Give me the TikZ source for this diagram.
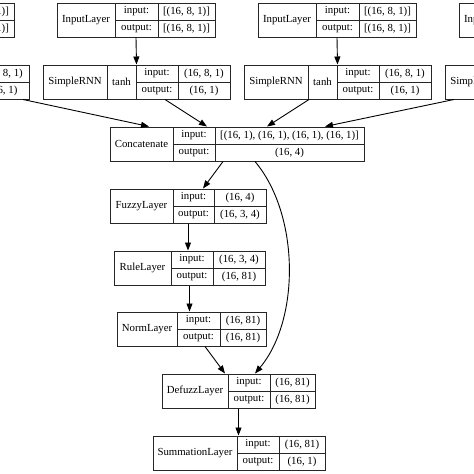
\documentclass[tikz,border=0pt]{standalone}
\usepackage{fontspec}
\setmainfont{Liberation Serif}
\usetikzlibrary{arrows.meta,fit,calc}
\tikzset{
  boxline/.style={draw=black!85, line width=1pt, inner sep=0pt},
  cell/.style={inner sep=0pt, font=\fontsize{10.8}{12}\selectfont, text=black},
  arr/.style={draw=black, line width=0.9pt, -{Triangle[length=8pt,width=6pt]}},
}
% name, x0, x1, x2, x3, ytop, label, input value, output value
\newcommand{\lay}[9]{%
  \pgfmathsetmacro{\yb}{#6+34}\pgfmathsetmacro{\ym}{#6+17}%
  \pgfmathsetmacro{\yi}{#6+8.5}\pgfmathsetmacro{\yo}{#6+25.5}%
  \node[boxline, fit={(#2,#6) (#5,\yb)}] (#1) {};
  \draw[boxline] (#3,#6) -- (#3,\yb);
  \draw[boxline] (#4,#6) -- (#4,\yb);
  \draw[boxline] (#3,\ym) -- (#5,\ym);
  \node[cell] (#1-l) at ({(#2+#3)/2},\ym) {#7};
  \node[cell] (#1-ik) at ({(#3+#4)/2},\yi) {input:};
  \node[cell] (#1-ok) at ({(#3+#4)/2},\yo) {output:};
  \node[cell] (#1-iv) at ({(#4+#5)/2},\yi) {#8};
  \node[cell] (#1-ov) at ({(#4+#5)/2},\yo) {#9};
}
\newcommand{\inp}[2]{%
  \pgfmathsetmacro{\ia}{57+(#2)}\pgfmathsetmacro{\ib}{115+(#2)}%
  \pgfmathsetmacro{\ic}{158+(#2)}\pgfmathsetmacro{\id}{215+(#2)}%
  \lay{#1}{\ia}{\ib}{\ic}{\id}{3}{InputLayer}{[(16, 8, 1)]}{[(16, 8, 1)]}%
}
\newcommand{\rnn}[2]{%
  \pgfmathsetmacro{\ra}{43+(#2)}\pgfmathsetmacro{\rb}{107+(#2)}%
  \pgfmathsetmacro{\rc}{136+(#2)}\pgfmathsetmacro{\rd}{178+(#2)}%
  \pgfmathsetmacro{\re}{230+(#2)}%
  \lay{#1}{\ra}{\rc}{\rd}{\re}{65}{}{(16, 8, 1)}{(16, 1)}%
  \draw[boxline] (\rb,65) -- (\rb,99);
  \node[cell] (#1-n) at ({(\ra+\rb)/2},82) {SimpleRNN};
  \node[cell] (#1-a) at ({(\rb+\rc)/2},82) {tanh};
}
\begin{document}
\begin{tikzpicture}[x=1pt,y=-1pt]
\useasboundingbox (0,0) rectangle (474,474);
\fill[white] (0,0) rectangle (474,474);
\clip (0,0) rectangle (474,474);

\inp{in0}{-201}
\inp{in1}{0}
\inp{in2}{201}
\inp{in3}{402}
\rnn{rnn0}{-201}
\rnn{rnn1}{0}
\rnn{rnn2}{201}
\rnn{rnn3}{402}

\lay{concat}{110}{173}{215}{364}{127}{Concatenate}{[(16, 1), (16, 1), (16, 1), (16, 1)]}{(16, 4)}
\lay{fuzzy}{110}{173}{214}{266}{189}{FuzzyLayer}{(16, 4)}{(16, 3, 4)}
\lay{rule}{114}{171}{213}{265}{251}{RuleLayer}{(16, 3, 4)}{(16, 81)}
\lay{norm}{117}{177}{220}{266}{312}{NormLayer}{(16, 81)}{(16, 81)}
\lay{defuzz}{162}{228}{270}{315}{374}{DefuzzLayer}{(16, 81)}{(16, 81)}
\lay{summ}{153}{237}{279}{325}{436}{SummationLayer}{(16, 81)}{(16, 1)}

\draw[arr] (in0.south) -- (rnn0.north);
\draw[arr] (in1.south) -- (rnn1.north);
\draw[arr] (in2.south) -- (rnn2.north);
\draw[arr] (in3.south) -- (rnn3.north);

\draw[arr] ($(rnn0.south)+(87.5,0)$) -- ($(concat.north)+(-88,0)$);
\draw[arr] ($(rnn1.south)+(28.5,0)$) -- ($(concat.north)+(-30,0)$);
\draw[arr] ($(rnn2.south)+(-28.5,0)$) -- ($(concat.north)+(30,0)$);
\draw[arr] ($(rnn3.south)+(-84.5,0)$) -- ($(concat.north)+(88,0)$);

\draw[arr] ($(concat.south)+(-14,0)$) -- ($(fuzzy.north)+(15,0)$);
\draw[arr] ($(concat.south)+(18,0)$) .. controls (300,215) and (300,320) .. ($(defuzz.north)+(16.5,0)$);
\draw[arr] (fuzzy.south) -- (fuzzy.south |- rule.north);
\draw[arr] (rule.south) -- (rule.south |- norm.north);
\draw[arr] ($(norm.south)+(13.5,0)$) -- ($(defuzz.north)+(-13.5,0)$);
\draw[arr] (defuzz.south) -- (defuzz.south |- summ.north);
\end{tikzpicture}
\end{document}
